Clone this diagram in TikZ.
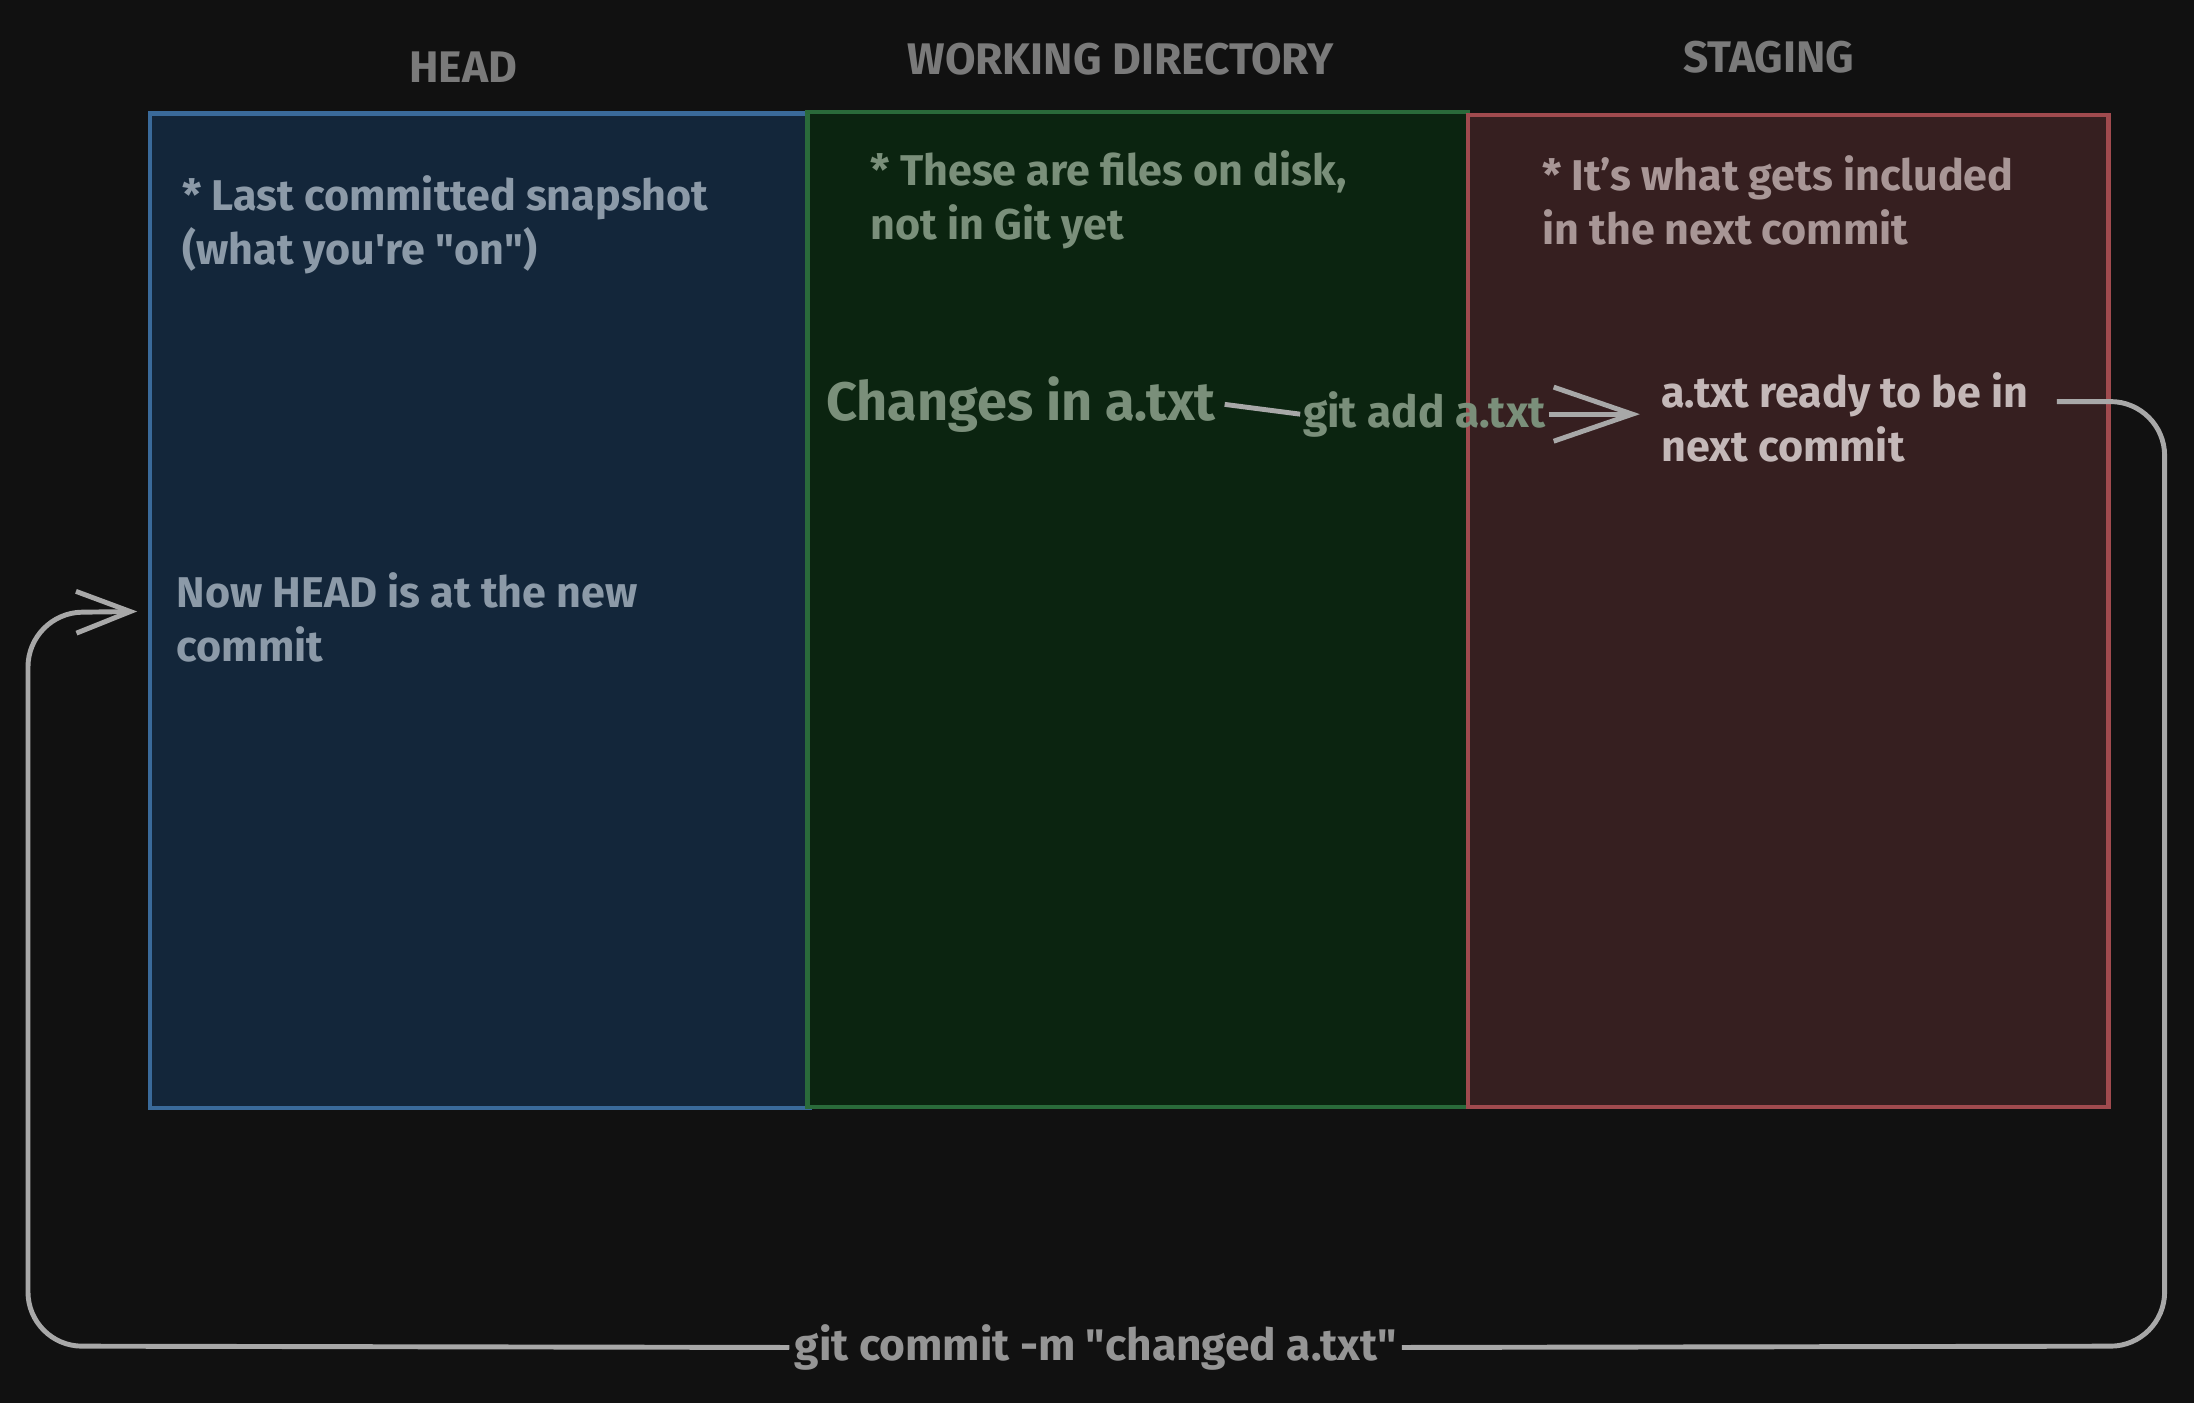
\documentclass[tikz,border=0pt]{standalone}
\usepackage{fontspec}
\setmainfont{Fira Sans}
\usetikzlibrary{arrows.meta}
\definecolor{bg}{HTML}{111111}
\definecolor{headfill}{HTML}{13263A}
\definecolor{headline}{HTML}{3A6A9A}
\definecolor{wdfill}{HTML}{0B2410}
\definecolor{wdline}{HTML}{2A6A3A}
\definecolor{stfill}{HTML}{361F20}
\definecolor{stline}{HTML}{A04A4E}
\definecolor{titlec}{HTML}{7A7A7A}
\definecolor{headtxt}{HTML}{8C9AA8}
\definecolor{wdtxt}{HTML}{7A8F7A}
\definecolor{sttxt}{HTML}{A89696}
\definecolor{brtxt}{HTML}{C4B8B8}
\definecolor{arr}{HTML}{A8A8A8}
\begin{document}
\begin{tikzpicture}[x=0.02cm,y=-0.02cm,
  title/.style={font=\bfseries\fontsize{18}{20}\selectfont, text=titlec},
  note/.style={font=\bfseries\fontsize{17.5}{22}\selectfont, align=left, anchor=north west, inner sep=0},
  conn/.style={draw=arr, line width=2pt, rounded corners=22},
  tip/.style={-{Straight Barb[length=22pt,width=17pt,line width=2pt]}},
  bigtip/.style={-{Straight Barb[length=32pt,width=22pt,line width=2pt]}}]
\fill[bg] (0,0) rectangle (1568,1003);
\draw[fill=headfill, draw=headline, line width=1.8pt] (107,81) rectangle (579,792);
\draw[fill=wdfill, draw=wdline, line width=1.8pt] (577,80) rectangle (1049,791);
\draw[fill=stfill, draw=stline, line width=1.8pt] (1049,82) rectangle (1507,791);
\node[title] (th) at (331,48) {HEAD};
\node[title] (tw) at (801,42) {WORKING DIRECTORY};
\node[title] (ts) at (1264,41) {STAGING};
\node[note, text=headtxt] (n1) at (130,125) {* Last committed snapshot\\(what you\textquotesingle re \textquotedbl on\textquotedbl)};
\node[note, text=wdtxt] (n2) at (622,107) {* These are files on disk,\\not in Git yet};
\node[note, text=sttxt] (n3) at (1102,111) {* It’s what gets included\\in the next commit};
\node[note, text=headtxt] (n4) at (126,409) {Now HEAD is at the new\\commit};
\node[font=\bfseries\fontsize{22}{26}\selectfont, text=wdtxt, anchor=west, inner sep=0] (ch) at (590,289) {Changes in a.txt};
\node[note, text=brtxt] (rd) at (1187,266) {a.txt ready to be in\\next commit};
\coordinate (rdr) at (1470,287);
\coordinate (hd) at (98,437);
\coordinate (at) at (1172,296);
\node[font=\bfseries\fontsize{18}{20}\selectfont, text=wdtxt, inner sep=1pt] (ga) at (1018,296) {git add a.txt};
\node[font=\bfseries\fontsize{18}{20}\selectfont, text=titlec!80!white, inner sep=2pt] (gc) at (783,963) {git commit -m \textquotedbl changed a.txt\textquotedbl};
\draw[draw=arr, line width=2pt] (ch.east) ++(6,0) -- (ga.west);
\draw[draw=arr, line width=2pt, bigtip] (ga.east) -- (at);
\draw[conn] (rdr) -- (1547,287) -- (1547,962) -- (gc.east);
\draw[conn, tip] (gc.west) -- (20,962) -- (20,438) -- (hd);
\end{tikzpicture}
\end{document}
